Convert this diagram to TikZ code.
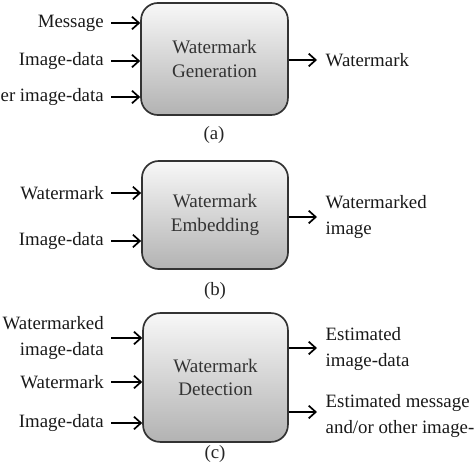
\documentclass[tikz,border=0pt]{standalone}
\usepackage{fontspec}
\setmainfont{Liberation Serif}
\usetikzlibrary{arrows.meta,shadings}
\tikzset{
  block/.style={draw=black!80,line width=1.2pt,rounded corners=12pt,top color=black!3,bottom color=black!30,
    align=center,text=black!80,font=\rmfamily\fontsize{13.6}{16.5}\selectfont},
  inlabel/.style={anchor=east,align=right,inner xsep=5pt,inner ysep=0pt,text=black!90,font=\rmfamily\fontsize{13.4}{18.5}\selectfont},
  outlabel/.style={anchor=west,align=left,inner xsep=6pt,inner ysep=0pt,text=black!90,font=\rmfamily\fontsize{13.4}{18.5}\selectfont},
  caption/.style={text=black!85,font=\rmfamily\fontsize{13.4}{16}\selectfont},
  flow/.style={-{Straight Barb[length=5pt,width=9pt]},line width=1.2pt}
}
\begin{document}
\begin{tikzpicture}[x=0.025cm,y=-0.025cm]
\useasboundingbox (0,0) rectangle (474,474);
\clip (0,0) rectangle (474,474);
% (a) generation
\node[block,minimum width=3.67cm,minimum height=2.8cm] (gen) at (214.5,59) {Watermark\\Generation};
\node[inlabel] (gmsg) at (111,23) {Message};
\node[inlabel] (gimg) at (111,61) {Image-data};
\node[inlabel] (goth) at (111,97) {er image-data};
\coordinate (gout) at (317,60);
\node[outlabel] (gwm) at (gout) {Watermark};
\draw[flow] (gmsg.east) -- (gmsg.east -| gen.west);
\draw[flow] (gimg.east) -- (gimg.east -| gen.west);
\draw[flow] (goth.east) -- (goth.east -| gen.west);
\draw[flow] (gout -| gen.east) -- (gout);
\node[caption] (capa) at (214,135) {(a)};
% (b) embedding
\node[block,minimum width=3.65cm,minimum height=2.7cm] (emb) at (215,215) {Watermark\\Embedding};
\node[inlabel] (ewm) at (111,193) {Watermark};
\node[inlabel] (eimg) at (111,241) {Image-data};
\coordinate (eout) at (317,217);
\node[outlabel] (ewmi) at (eout) {Watermarked\\image};
\draw[flow] (ewm.east) -- (ewm.east -| emb.west);
\draw[flow] (eimg.east) -- (eimg.east -| emb.west);
\draw[flow] (eout -| emb.east) -- (eout);
\node[caption] (capb) at (215,291) {(b)};
% (c) detection
\node[block,minimum width=3.62cm,minimum height=3.22cm] (det) at (215.5,377.5) {Watermark\\Detection};
\node[inlabel] (dwmi) at (111,338) {Watermarked\\image-data};
\node[inlabel] (dwm) at (111,382) {Watermark};
\node[inlabel] (dimg) at (111,423) {Image-data};
\coordinate (dout1) at (317,348);
\coordinate (dout2) at (317,412);
\node[outlabel] (dest1) at ([yshift=-0.5pt]dout1) {Estimated\\image-data};
\node[outlabel] (dest2) at ([yshift=-3pt]dout2) {Estimated message\\and/or other image-};
\draw[flow] (dwmi.east) -- (dwmi.east -| det.west);
\draw[flow] (dwm.east) -- (dwm.east -| det.west);
\draw[flow] (dimg.east) -- (dimg.east -| det.west);
\draw[flow] (dout1 -| det.east) -- (dout1);
\draw[flow] (dout2 -| det.east) -- (dout2);
\node[caption] (capc) at (215,454) {(c)};
\end{tikzpicture}
\end{document}
